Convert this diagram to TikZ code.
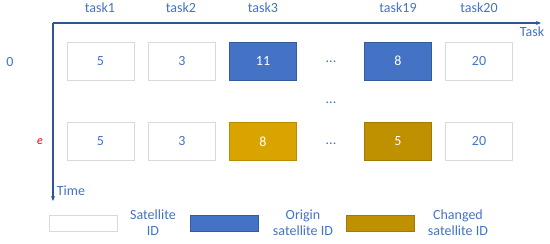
\documentclass[tikz,border=0pt]{standalone}
\usepackage{fontspec}
\setmainfont{Carlito}
\usetikzlibrary{arrows.meta}
\definecolor{tblue}{HTML}{4472C4}
\definecolor{axblue}{HTML}{2F5597}
\definecolor{gold1}{HTML}{D9A300}
\definecolor{gold2}{HTML}{BF9000}
\definecolor{bgray}{HTML}{D9D9D9}
\begin{document}
\begin{tikzpicture}[x=1pt,y=-1pt,
  lbl/.style={text=tblue,font=\fontsize{14}{16}\selectfont,inner sep=0pt},
  idbox/.style={draw=bgray,line width=0.8pt,fill=white,minimum width=67pt,minimum height=38pt,inner sep=0pt,text=tblue,font=\fontsize{14}{16}\selectfont},
  orig/.style={idbox,draw=tblue!80!black,fill=tblue,text=white},
  chg1/.style={idbox,draw=gold1!85!black,fill=gold1,text=white},
  chg2/.style={idbox,draw=gold2!85!black,fill=gold2,text=white},
  legbox/.style={minimum width=68pt,minimum height=16pt,inner sep=0pt,line width=0.8pt},
  axis/.style={draw=axblue,line width=1.6pt,-{Stealth[length=5pt,width=4pt]}}
]
\useasboundingbox (0,0) rectangle (550,244);
\coordinate (o) at (53,23);
\coordinate (xe) at (541,23);
\coordinate (ye) at (53,201);
\draw[axis] (o) -- (xe);
\draw[axis] (o) -- (ye);
\node[lbl] (tasklbl) at (532,32) {Task};
\node[lbl] (timelbl) at (71,191) {Time};
\node[lbl] (t1) at (100,8) {task1};
\node[lbl] (t2) at (181,8) {task2};
\node[lbl] (t3) at (263,8) {task3};
\node[lbl] (t19) at (398,8) {task19};
\node[lbl] (t20) at (479,8) {task20};
\node[lbl] (r0) at (10,62) {0};
\node[text=red,font=\fontsize{12}{14}\selectfont\itshape,inner sep=0pt] (re) at (40,142) {e};
% row 1
\node[idbox] (a1) at (100.5,61) {5};
\node[idbox] (a2) at (182,61) {3};
\node[orig] (a3) at (263,61) {11};
\node[lbl] (ad) at (331,62) {...};
\node[orig] (a19) at (398,61) {8};
\node[idbox] (a20) at (479,61) {20};
\node[lbl] (md) at (331,103) {...};
% row 2
\node[idbox] (b1) at (100.5,141.5) {5};
\node[idbox] (b2) at (182,141.5) {3};
\node[chg1] (b3) at (263,141.5) {8};
\node[lbl] (bd) at (331,144) {...};
\node[chg2] (b19) at (398,141.5) {5};
\node[idbox] (b20) at (479,141.5) {20};
% legend
\node[legbox,draw=bgray,fill=white] (l1) at (83.5,223) {};
\node[lbl,align=center] (l1t) at (153,223) {Satellite\\ID};
\node[legbox,draw=tblue!80!black,fill=tblue] (l2) at (224,223) {};
\node[lbl,align=center] (l2t) at (303,223) {Origin\\satellite ID};
\node[legbox,draw=gold2!85!black,fill=gold2] (l3) at (380,223) {};
\node[lbl,align=center] (l3t) at (458,223) {Changed\\satellite ID};
\end{tikzpicture}
\end{document}
